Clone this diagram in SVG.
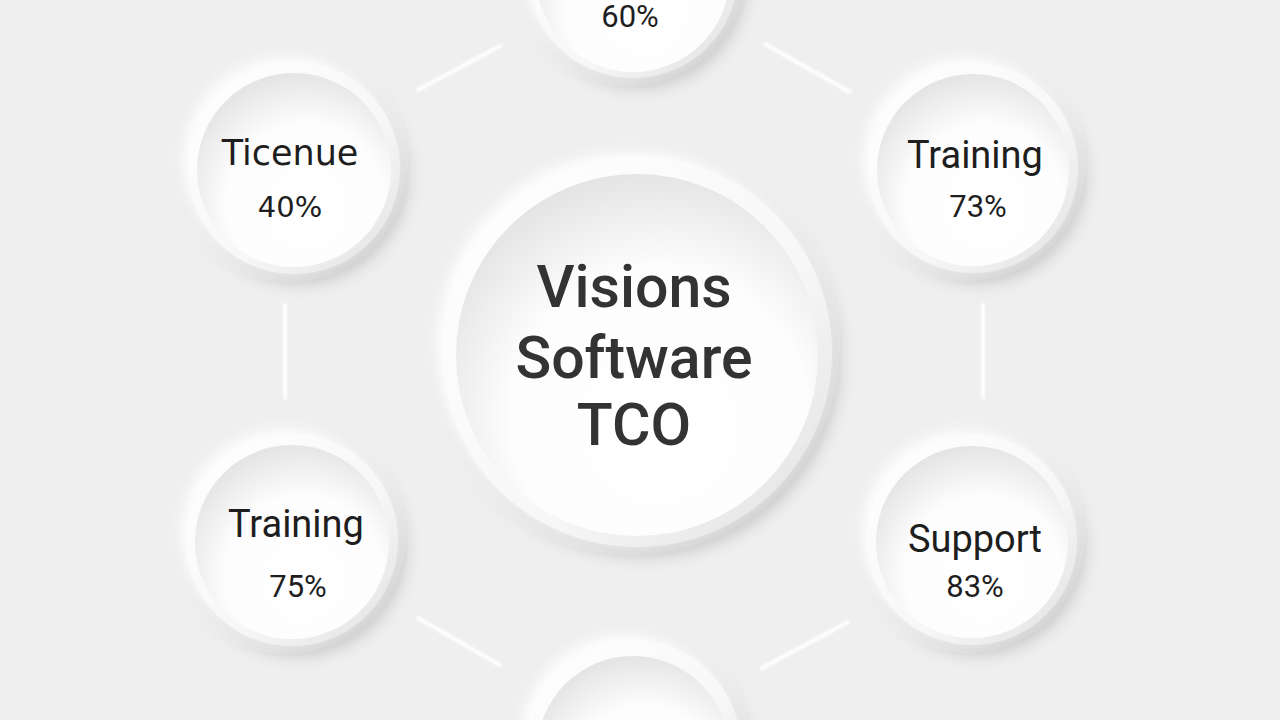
<svg xmlns="http://www.w3.org/2000/svg" width="1280" height="720" viewBox="0 0 1280 720">
  <defs>
    <filter id="shadow" x="-30%" y="-30%" width="160%" height="160%">
      <feDropShadow dx="-6" dy="-6" stdDeviation="6" flood-color="#ffffff" flood-opacity="0.9"/>
      <feDropShadow dx="7" dy="9" stdDeviation="8" flood-color="#000000" flood-opacity="0.17"/>
    </filter>
    <filter id="soft" filterUnits="userSpaceOnUse" x="0" y="0" width="1280" height="720">
      <feGaussianBlur stdDeviation="1.2"/>
    </filter>
    <radialGradient id="face" cx="0.56" cy="0.64" r="0.66" fx="0.56" fy="0.72">
      <stop offset="0" stop-color="#ffffff"/>
      <stop offset="0.62" stop-color="#fdfdfd"/>
      <stop offset="1" stop-color="#e3e3e3"/>
    </radialGradient>
    <linearGradient id="rim" x1="0" y1="0" x2="1" y2="1">
      <stop offset="0" stop-color="#ffffff"/>
      <stop offset="0.6" stop-color="#f7f7f7"/>
      <stop offset="1" stop-color="#e0e0e0"/>
    </linearGradient>
  </defs>
  <style>
    .rim { fill: url(#rim); filter: url(#shadow); }
    .face { fill: url(#face); }
    .conn { stroke: #ffffff; stroke-width: 4; stroke-linecap: round; fill: none; opacity: 0.95; filter: url(#soft); }
    .title { font-family: Roboto, "Liberation Sans", sans-serif; font-weight: 500; font-size: 59px; fill: #333333; text-anchor: middle; }
    .lbl { font-family: Roboto, "Liberation Sans", sans-serif; font-size: 38px; fill: #1e1e1e; text-anchor: middle; }
    .pct { font-family: Roboto, "Liberation Sans", sans-serif; font-size: 31px; fill: #1e1e1e; text-anchor: middle; }
  </style>
  <rect width="1280" height="720" fill="#efefef"/>

  <g id="connectors">
    <line class="conn" x1="418" y1="90" x2="500" y2="46"/>
    <line class="conn" x1="765" y1="44" x2="850" y2="92"/>
    <line class="conn" x1="285" y1="305" x2="285" y2="398"/>
    <line class="conn" x1="983" y1="305" x2="983" y2="398"/>
    <line class="conn" x1="418" y1="618" x2="500" y2="665"/>
    <line class="conn" x1="762" y1="668" x2="848" y2="622"/>
  </g>

  <g id="node-center">
    <circle class="rim" cx="637" cy="352" r="195"/>
    <circle class="face" cx="637" cy="355" r="181"/>
    <text class="title" x="634" y="307">Visions</text>
    <text class="title" x="634" y="378">Software</text>
    <text class="title" x="634" y="445">TCO</text>
  </g>

  <g id="node-top">
    <circle class="rim" cx="633" cy="-27" r="105"/>
    <circle class="face" cx="633" cy="-25" r="97"/>
    <text class="pct" x="630" y="27">60%</text>
  </g>

  <g id="node-topleft">
    <circle class="rim" cx="294" cy="168" r="106"/>
    <circle class="face" cx="294" cy="170" r="97"/>
    <text class="lbl" x="290" y="165" style="font-family:'DejaVu Sans', 'Liberation Sans', sans-serif; font-size:35px">Ticenue</text>
    <text class="pct" x="290" y="217" style="font-family:'DejaVu Sans', 'Liberation Sans', sans-serif; font-size:29px">40%</text>
  </g>

  <g id="node-topright">
    <circle class="rim" cx="973" cy="168" r="105"/>
    <circle class="face" cx="973" cy="170" r="96"/>
    <text class="lbl" x="975" y="168">Training</text>
    <text class="pct" x="978" y="217">73%</text>
  </g>

  <g id="node-bottomleft">
    <circle class="rim" cx="292" cy="540" r="106"/>
    <circle class="face" cx="292" cy="542" r="97"/>
    <text class="lbl" x="296" y="537">Training</text>
    <text class="pct" x="298" y="597">75%</text>
  </g>

  <g id="node-bottomright">
    <circle class="rim" cx="972" cy="540" r="105"/>
    <circle class="face" cx="972" cy="542" r="96"/>
    <text class="lbl" x="975" y="552">Support</text>
    <text class="pct" x="975" y="597">83%</text>
  </g>

  <g id="node-bottom">
    <circle class="rim" cx="633" cy="748" r="108"/>
    <circle class="face" cx="633" cy="752" r="96"/>
  </g>
</svg>
